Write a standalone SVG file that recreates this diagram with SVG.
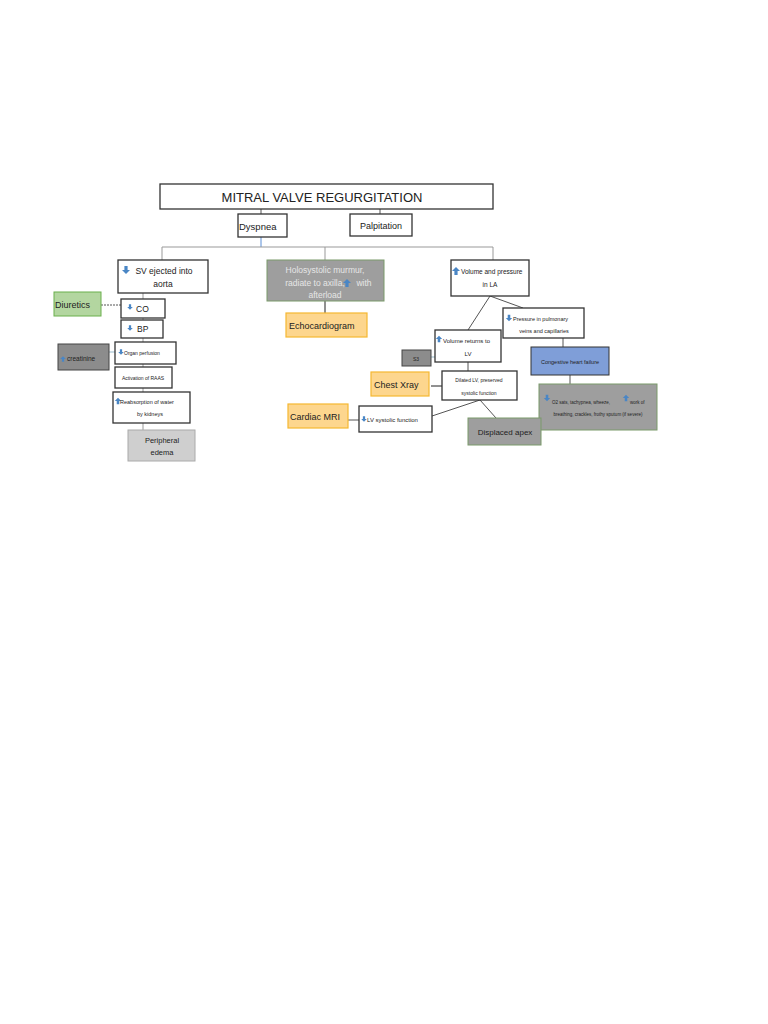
<svg xmlns="http://www.w3.org/2000/svg" width="768" height="1024" viewBox="0 0 768 1024">
<style>
text{font-family:"Liberation Sans",Arial,sans-serif;fill:#222}
.w{fill:#fff;stroke:#333;stroke-width:1.3}
.g{fill:#9e9e9e;stroke:#7a9a6a;stroke-width:1}
.o{fill:#fdd68e;stroke:#f5b731;stroke-width:1.2}
.gr{fill:#b3d6a0;stroke:#6bb04c;stroke-width:1}
.c path,.c line{stroke:#555;stroke-width:1;fill:none}
.a{fill:#4a86c5}
</style>
<rect width="768" height="1024" fill="#fff"/>
<defs><path id="up" d="M0,-4 L4,0 L1.6,0 L1.6,4 L-1.6,4 L-1.6,0 L-4,0Z" class="a"/></defs>
<g class="c">
<line x1="261" y1="209" x2="261" y2="214"/>
<line x1="380" y1="209" x2="380" y2="214"/>
<line x1="261" y1="237" x2="261" y2="247" style="stroke:#5b8ed6"/>
<line x1="162" y1="247" x2="493" y2="247" style="stroke:#999"/>
<line x1="162" y1="247" x2="162" y2="260" style="stroke:#999"/>
<line x1="325" y1="247" x2="325" y2="260" style="stroke:#999"/>
<line x1="493" y1="247" x2="493" y2="260" style="stroke:#999"/>
<line x1="325" y1="301" x2="325" y2="313" style="stroke:#222"/>
<line x1="101" y1="305" x2="121" y2="305" style="stroke-dasharray:2 1"/>
<line x1="143" y1="293" x2="143" y2="430" style="stroke:#999"/>
<line x1="109" y1="352" x2="115" y2="352" style="stroke:#9bc"/>
<line x1="490" y1="296" x2="468" y2="330"/>
<line x1="490" y1="296" x2="523" y2="308"/>
<line x1="563" y1="338" x2="563" y2="347"/>
<line x1="570" y1="375" x2="570" y2="384"/>
<line x1="468" y1="362" x2="468" y2="371"/>
<line x1="431" y1="357" x2="435" y2="357" style="stroke:#9bc"/>
<line x1="431" y1="386" x2="442" y2="386" style="stroke:#222"/>
<line x1="480" y1="400" x2="432" y2="416"/>
<line x1="480" y1="400" x2="496" y2="418"/>
<line x1="348" y1="420" x2="359" y2="420"/>
</g>
<g id="title"><rect class="w" x="160" y="184" width="333" height="25"/><text x="322" y="202" font-size="13" text-anchor="middle">MITRAL VALVE REGURGITATION</text></g>
<g id="dyspnea"><rect class="w" x="238" y="214" width="49" height="23"/><text x="239" y="230" font-size="9.5">Dyspnea</text></g>
<g id="palpitation"><rect class="w" x="350" y="214" width="62" height="22"/><text x="381" y="229" font-size="9" text-anchor="middle">Palpitation</text></g>
<g id="sv"><rect class="w" x="118" y="260" width="90" height="33"/><use href="#up" transform="translate(126,270) rotate(180)"/><text x="164" y="274" font-size="8.5" text-anchor="middle">SV ejected into</text><text x="163" y="287" font-size="8.5" text-anchor="middle">aorta</text></g>
<g id="holo"><rect class="g" x="267" y="260" width="117" height="41"/><text x="325" y="273" font-size="8.5" fill="#e8e8e8" style="fill:#e6e6e6" text-anchor="middle">Holosystolic murmur,</text><text x="315" y="286" font-size="8.5" style="fill:#e6e6e6" text-anchor="middle">radiate to axilla,</text><use href="#up" transform="translate(347,283)"/><text x="364" y="286" font-size="8.5" style="fill:#e6e6e6" text-anchor="middle">with</text><text x="325" y="298" font-size="8.5" style="fill:#e6e6e6" text-anchor="middle">afterload</text></g>
<g id="vla"><rect class="w" x="451" y="260" width="78" height="36"/><use href="#up" transform="translate(456,271)"/><text x="461" y="274" font-size="6.5">Volume and pressure</text><text x="490" y="287" font-size="6.5" text-anchor="middle">in LA</text></g>
<g id="diuretics"><rect class="gr" x="54" y="292" width="47" height="24"/><text x="55" y="308" font-size="9">Diuretics</text></g>
<g id="co"><rect class="w" x="121" y="299" width="44" height="19"/><use href="#up" transform="translate(130,307) rotate(180) scale(0.7)"/><text x="136" y="312" font-size="8.5">CO</text></g>
<g id="bp"><rect class="w" x="121" y="320" width="42" height="18"/><use href="#up" transform="translate(130,328) rotate(180) scale(0.7)"/><text x="137" y="332" font-size="8.5">BP</text></g>
<g id="creat"><rect x="58" y="344" width="51" height="26" fill="#8c8c8c" stroke="#444"/><use href="#up" transform="translate(63,359) scale(0.7)"/><text x="67" y="361" font-size="6.5">creatinine</text></g>
<g id="organ"><rect class="w" x="115" y="342" width="61" height="22"/><use href="#up" transform="translate(121,352) rotate(180) scale(0.7)"/><text x="124" y="355" font-size="5">Organ perfusion</text></g>
<g id="raas"><rect class="w" x="115" y="367" width="57" height="21"/><text x="143" y="380" font-size="5" text-anchor="middle">Activation of RAAS</text></g>
<g id="reab"><rect class="w" x="113" y="392" width="77" height="31"/><use href="#up" transform="translate(118,401) scale(0.8)"/><text x="120" y="404" font-size="5.5">Reabsorption of water</text><text x="150" y="416" font-size="5.5" text-anchor="middle">by kidneys</text></g>
<g id="edema"><rect x="128" y="430" width="67" height="31" fill="#cfcfcf" stroke="#aaa"/><text x="162" y="443" font-size="7.5" text-anchor="middle">Peripheral</text><text x="162" y="455" font-size="7.5" text-anchor="middle">edema</text></g>
<g id="echo"><rect class="o" x="286" y="313" width="81" height="24"/><text x="289" y="329" font-size="9">Echocardiogram</text></g>
<g id="ppv"><rect class="w" x="503" y="308" width="81" height="30"/><use href="#up" transform="translate(509,318) rotate(180) scale(0.8)"/><text x="513" y="321" font-size="5.5">Pressure in pulmonary</text><text x="544" y="333" font-size="5.5" text-anchor="middle">veins and capillaries</text></g>
<g id="vrl"><rect class="w" x="435" y="330" width="66" height="32"/><use href="#up" transform="translate(439,339) scale(0.8)"/><text x="443" y="343" font-size="6">Volume returns to</text><text x="468" y="356" font-size="6" text-anchor="middle">LV</text></g>
<g id="s3"><rect x="402" y="350" width="29" height="16" fill="#8c8c8c" stroke="#444"/><text x="416" y="361" font-size="5" text-anchor="middle">S3</text></g>
<g id="chf"><rect x="531" y="347" width="78" height="28" fill="#7f9ed8" stroke="#333"/><text x="570" y="364" font-size="5.5" text-anchor="middle">Congestive heart failure</text></g>
<g id="dil"><rect class="w" x="442" y="371" width="75" height="29"/><text x="479" y="382" font-size="5" text-anchor="middle">Dilated LV, preserved</text><text x="479" y="395" font-size="5" text-anchor="middle">systolic function</text></g>
<g id="cxr"><rect class="o" x="371" y="372" width="58" height="24"/><text x="374" y="388" font-size="9">Chest Xray</text></g>
<g id="o2"><rect class="g" x="539" y="384" width="118" height="46"/><use href="#up" transform="translate(547,398) rotate(180) scale(0.8)"/><text x="552" y="404" font-size="4.5">O2 sats, tachypnea, wheeze,</text><use href="#up" transform="translate(626,398) scale(0.8)"/><text x="630" y="404" font-size="4.5">work of</text><text x="598" y="416" font-size="4.5" text-anchor="middle">breathing, crackles, frothy sputum (if severe)</text></g>
<g id="mri"><rect class="o" x="288" y="404" width="60" height="24"/><text x="290" y="420" font-size="9">Cardiac MRI</text></g>
<g id="lvs"><rect class="w" x="359" y="406" width="73" height="26"/><use href="#up" transform="translate(364,419) rotate(180) scale(0.7)"/><text x="367" y="422" font-size="6">LV systolic function</text></g>
<g id="apex"><rect class="g" x="468" y="418" width="73" height="27"/><text x="505" y="435" font-size="8" text-anchor="middle">Displaced apex</text></g>
</svg>
